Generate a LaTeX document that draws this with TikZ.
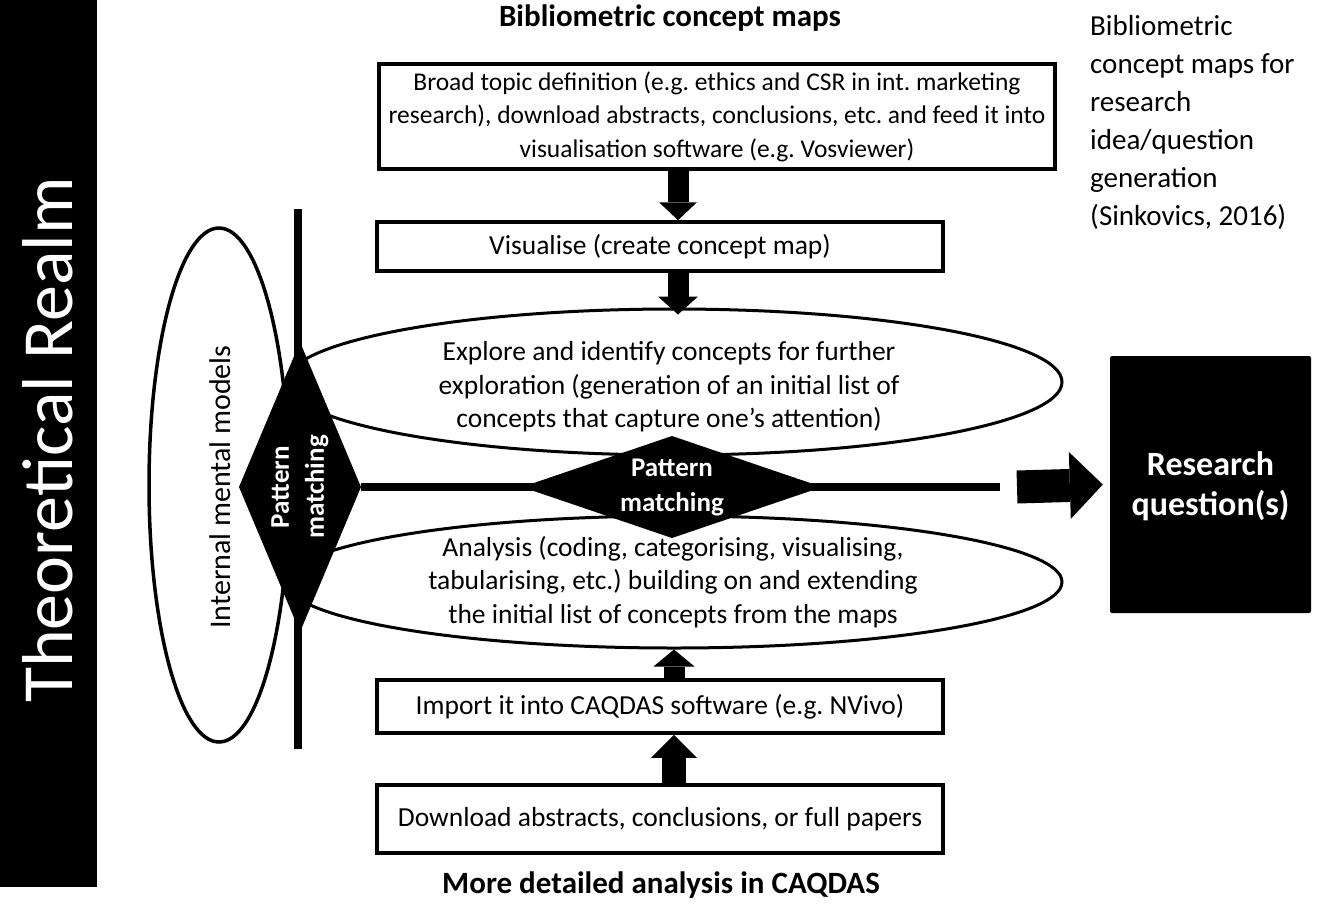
\documentclass[tikz,border=0pt]{standalone}
\usepackage{fontspec}
\setmainfont{Carlito}
\usetikzlibrary{shapes.geometric,arrows.meta}
\frenchspacing
\begin{document}
\begin{tikzpicture}[x=1pt,y=-1pt,
  txt/.style={font=\fontsize{27.5}{33.5}\selectfont, align=center, inner sep=0pt},
  boxnode/.style={draw=black, line width=3.5pt, fill=white, inner sep=0pt, align=center, font=\fontsize{27.5}{33.5}\selectfont},
  ringnode/.style={ellipse, draw=black, line width=3pt, inner sep=0pt},
  barline/.style={line width=8pt, draw=black},
  diamondnode/.style={diamond, fill=black, inner sep=0pt, outer sep=0pt},
  whitebold/.style={text=white, font=\bfseries\fontsize{27}{35}\selectfont, align=center, inner sep=0pt},
  titlenode/.style={font=\bfseries\fontsize{31}{34}\selectfont, inner sep=0pt},
  blockarrow/.style={draw=black, line width=#1},
]
\useasboundingbox (0,0) rectangle (1325,903);
% left bar
\node[fill=black, minimum width=97pt, minimum height=887pt, inner sep=0pt, anchor=north west] (bar) at (0,0) {};
\node[rotate=90, text=white, font=\fontsize{72}{74}\selectfont, inner sep=0pt] (realm) at (48,440) {Theoretical Realm};

% titles
\node[titlenode] (ttop) at (670,18) {Bibliometric concept maps};
\node[titlenode] (tbot) at (661,885) {More detailed analysis in CAQDAS};
\node[font=\fontsize{29}{38}\selectfont, align=left, inner sep=0pt, anchor=west] (side) at (1090,122) {Bibliometric\\concept maps for\\research\\idea/question\\generation\\(Sinkovics, 2016)};

% left ellipse and vertical line
\node[ringnode, line width=3.5pt, minimum width=140pt, minimum height=514pt] (imm) at (219,485) {};
\node[rotate=90, txt, font=\fontsize{30}{34}\selectfont] (immt) at (220,487) {Internal mental models};
\coordinate (vtop) at (298,209);
\coordinate (vbot) at (298,749);
\draw[barline] (vtop) -- (vbot);

% boxes
\node[boxnode, font=\fontsize{25.5}{33.5}\selectfont, minimum width=676pt, minimum height=105pt] (b1) at (717,116.5) {Broad topic definition (e.g. ethics and CSR in int. marketing\\research), download abstracts, conclusions, etc. and feed it into\\visualisation software (e.g. Vosviewer)};
\node[boxnode, minimum width=566pt, minimum height=49pt] (b2) at (660,246.5) {Visualise (create concept map)};
\node[boxnode, minimum width=566pt, minimum height=53pt] (b3) at (660,706.5) {Import it into CAQDAS software (e.g. NVivo)};
\node[boxnode, minimum width=566pt, minimum height=68pt] (b4) at (660,819) {Download abstracts, conclusions, or full papers};

% ellipses
\node[ringnode, fill=white, minimum width=776pt, minimum height=146pt] (e1) at (674,382) {};
\node[txt] (e1t) at (669,387) {Explore and identify concepts for further\\exploration (generation of an initial list of\\concepts that capture one’s attention)};
\node[ringnode, fill=white, minimum width=776pt, minimum height=132pt] (e2) at (674,582) {};
\node[txt] (e2t) at (673,582) {Analysis (coding, categorising, visualising,\\tabularising, etc.) building on and extending\\the initial list of concepts from the maps};

% diamonds and horizontal line
\node[diamondnode, minimum width=122pt, minimum height=290pt] (d1) at (300,487) {};
\node[whitebold, rotate=90] (d1t) at (300,487) {Pattern\\matching};
\coordinate (hend) at (1000,487);
\draw[barline] (d1.east) -- (hend);
\node[diamondnode, minimum width=300pt, minimum height=102pt] (d2) at (672,487) {};
\node[whitebold] (d2t) at (672,488) {Pattern\\matching};

% research question
\node[fill=black, rounded corners=2pt, minimum width=201pt, minimum height=257pt, inner sep=0pt] (rq) at (1210.5,484.5) {};
\node[text=white, font=\bfseries\fontsize{34}{40}\selectfont, align=center, inner sep=0pt] (rqt) at (1210.5,486) {Research\\question(s)};

% block arrows
\coordinate (ax1) at (678,0);
\coordinate (ax2) at (674,0);
\draw[blockarrow=21pt, -{Triangle[width=38pt,length=18pt,line width=0pt]}] (b1.south -| ax1) -- (b2.north -| ax1);
\draw[blockarrow=21pt, -{Triangle[width=40pt,length=18pt,line width=0pt]}] (b2.south -| ax1) -- ([yshift=-7pt]e1.north -| ax1);
\draw[blockarrow=21pt, -{Triangle[width=41pt,length=17pt,line width=0pt]}] (b3.north -| ax2) -- (e2.south -| ax2);
\draw[blockarrow=24pt, -{Triangle[width=46pt,length=23pt,line width=0pt]}] (b4.north -| ax2) -- (b3.south -| ax2);
\coordinate (rstart) at (1017,487);
\draw[blockarrow=33pt, -{Triangle[width=67pt,length=33pt,line width=0pt]}] (rstart) -- ([xshift=-7pt]rq.west);
\end{tikzpicture}
\end{document}
